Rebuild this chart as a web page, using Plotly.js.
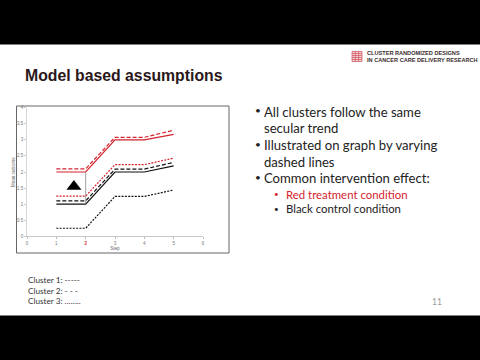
<!DOCTYPE html>
<html>
<head>
<meta charset="utf-8">
<script src="https://cdn.plot.ly/plotly-3.0.1.min.js"></script>
<style>html,body{margin:0;padding:0;background:#000;}#chart{width:480px;height:360px;}</style>
</head>
<body>
<div id="chart"></div>
<script>
// ---- data ----
var steps = [1, 2, 3, 4, 5];
var treatCluster1 = [2.0, 2.0, 3.0, 3.0, 3.17];   // red solid
var treatCluster2 = [2.1, 2.1, 3.08, 3.08, 3.3];  // red dashed
var treatCluster3 = [1.25, 1.25, 2.23, 2.23, 2.43]; // red dotted
var ctrlCluster1 = [1.0, 1.0, 2.0, 2.0, 2.19];    // black solid
var ctrlCluster2 = [1.1, 1.1, 2.09, 2.09, 2.3];   // black dashed
var ctrlCluster3 = [0.25, 0.25, 1.24, 1.24, 1.44]; // black dotted
var xTickVals = [0, 1, 2, 3, 4, 5, 6];
var xTickText = ['0', '1', '<span style="color:#e0303a"><b>2</b></span>', '3', '4', '5', '6'];
var yTickVals = [0, 0.5, 1, 1.5, 2, 2.5, 3, 3.5, 4];
var effectStep = 2;
var deltaPoint = {x: [1.6], y: [1.55]};

var bullets = ['All clusters follow the same', 'secular trend', 'Illustrated on graph by varying', 'dashed lines', 'Common intervention effect:'];
var subBullets = ['Red treatment condition', 'Black control condition'];
var clusterKey = ['Cluster 1: -----', 'Cluster 2: - - -', 'Cluster 3: ……..'];

var RED = '#d4232e';
var DASH = '4px,2px';
var DOT = '2px,1.3px';
function line(y, color, dash) {
  return {x: steps, y: y, type: 'scatter', mode: 'lines', hoverinfo: 'skip',
          line: {color: color, width: 1.2, dash: dash}, showlegend: false};
}
var iEff = steps.indexOf(effectStep);
var traces = [
  line(ctrlCluster3, '#111', DOT),
  line(treatCluster3, RED, DOT),
  line(ctrlCluster2, '#111', DASH),
  line(ctrlCluster1, '#111', 'solid'),
  line(treatCluster2, RED, DASH),
  line(treatCluster1, RED, 'solid'),
  {x: [effectStep, effectStep], y: [ctrlCluster1[iEff], treatCluster1[iEff]], type: 'scatter', mode: 'lines',
   line: {color: '#888', width: 0.8}, showlegend: false, hoverinfo: 'skip'},
  {x: deltaPoint.x, y: deltaPoint.y, type: 'scatter', mode: 'markers',
   marker: {symbol: 'triangle-up', size: 13, color: '#000'}, showlegend: false, hoverinfo: 'skip'}
];

function px(x) { return x / 480; }
function py(y) { return 1 - y / 360; }
var anns = [];
anns.push({text: '<b>Model based assumptions</b>', x: px(23), y: py(75), xref: 'paper', yref: 'paper',
  xanchor: 'left', yanchor: 'middle', showarrow: false,
  font: {family: 'Liberation Sans, Arial, sans-serif', size: 15.8, color: '#2b1719'}});
anns.push({text: '<b>CLUSTER RANDOMIZED DESIGNS<br>IN CANCER CARE DELIVERY RESEARCH</b>', x: px(364.5), y: py(56.5),
  xref: 'paper', yref: 'paper', xanchor: 'left', yanchor: 'middle', align: 'left', showarrow: false,
  font: {family: 'Liberation Sans, Arial, sans-serif', size: 5.6, color: '#3a2a2c'}});
var bY = [111.5, 128, 145, 161.5, 178];
var hasBullet = [true, false, true, false, true];
bullets.forEach(function (t, i) {
  anns.push({text: t, x: px(261.5), y: py(bY[i]), xref: 'paper', yref: 'paper', xanchor: 'left', yanchor: 'middle',
    showarrow: false, font: {family: 'Lato, Open Sans, sans-serif', size: 13.1, color: '#222'}});
  if (hasBullet[i]) anns.push({text: '•', x: px(252.5), y: py(bY[i] - 1.5), xref: 'paper', yref: 'paper', xanchor: 'left',
    yanchor: 'middle', showarrow: false, font: {family: 'Lato, sans-serif', size: 10, color: '#222'}});
});
var sY = [194, 208.5];
var sCol = [RED, '#222'];
subBullets.forEach(function (t, i) {
  anns.push({text: t, x: px(283.5), y: py(sY[i]), xref: 'paper', yref: 'paper', xanchor: 'left', yanchor: 'middle',
    showarrow: false, font: {family: 'Lato, Open Sans, sans-serif', size: 11.4, color: sCol[i]}});
  anns.push({text: '•', x: px(271.5), y: py(sY[i]), xref: 'paper', yref: 'paper', xanchor: 'left', yanchor: 'middle',
    showarrow: false, font: {family: 'Lato, sans-serif', size: 8, color: sCol[i]}});
});
var cY = [280, 290.5, 301];
clusterKey.forEach(function (t, i) {
  anns.push({text: t, x: px(25.5), y: py(cY[i]), xref: 'paper', yref: 'paper', xanchor: 'left', yanchor: 'middle',
    showarrow: false, font: {family: 'Lato, Open Sans, sans-serif', size: 8.2, color: '#333'}});
});
anns.push({text: '11', x: px(444), y: py(302), xref: 'paper', yref: 'paper', xanchor: 'right', yanchor: 'middle',
  showarrow: false, font: {family: 'Lato, sans-serif', size: 8.5, color: '#999'}});

var shapes = [
  {type: 'rect', xref: 'paper', yref: 'paper', x0: 0, x1: 1, y0: py(315.5), y1: py(44.5), fillcolor: '#fff', line: {width: 0}, layer: 'below'},
  {type: 'rect', xref: 'paper', yref: 'paper', x0: px(16.5), x1: px(229), y0: py(253), y1: py(106), fillcolor: 'rgba(0,0,0,0)', line: {color: '#666', width: 1}, layer: 'below'},
  // logo grid icon
  {type: 'rect', xref: 'paper', yref: 'paper', x0: px(352), x1: px(362), y0: py(61.5), y1: py(51.5), fillcolor: '#f3d3d6', line: {color: '#c9303a', width: 0.6}}
];
[53.5, 55.5, 57.5, 59.5].forEach(function (yy) {
  shapes.push({type: 'line', xref: 'paper', yref: 'paper', x0: px(352), x1: px(362), y0: py(yy), y1: py(yy), line: {color: '#d0505a', width: 0.7}});
});
[355.3, 358.6].forEach(function (xx) {
  shapes.push({type: 'line', xref: 'paper', yref: 'paper', x0: px(xx), x1: px(xx), y0: py(51.5), y1: py(61.5), line: {color: '#d0505a', width: 0.7}});
});

var layout = {
  width: 480, height: 360,
  margin: {l: 0, r: 0, t: 0, b: 0},
  paper_bgcolor: '#000', plot_bgcolor: '#fff',
  xaxis: {domain: [px(27), px(203)], range: [0, 6], tickvals: xTickVals, ticktext: xTickText,
    showgrid: false, zeroline: false, showline: true, linecolor: '#bbb', linewidth: 0.8,
    ticks: 'outside', ticklen: 2, tickcolor: '#bbb',
    tickfont: {family: 'Liberation Sans, sans-serif', size: 4.5, color: '#777'},
    title: {text: 'Step', font: {family: 'Liberation Sans, sans-serif', size: 4.5, color: '#666'}, standoff: 1}},
  yaxis: {domain: [py(236.3), py(107.7)], range: [0, 4], tickvals: yTickVals,
    showgrid: false, zeroline: false, showline: true, linecolor: '#ccc', linewidth: 0.8,
    ticks: 'outside', ticklen: 2, tickcolor: '#ccc',
    tickfont: {family: 'Liberation Sans, sans-serif', size: 4.5, color: '#777'},
    title: {text: 'Mean outcome', font: {family: 'Liberation Sans, sans-serif', size: 4.5, color: '#666'}, standoff: 1}},
  annotations: anns,
  shapes: shapes
};
Plotly.newPlot('chart', traces, layout, {displayModeBar: false, staticPlot: true});
</script>
</body>
</html>
